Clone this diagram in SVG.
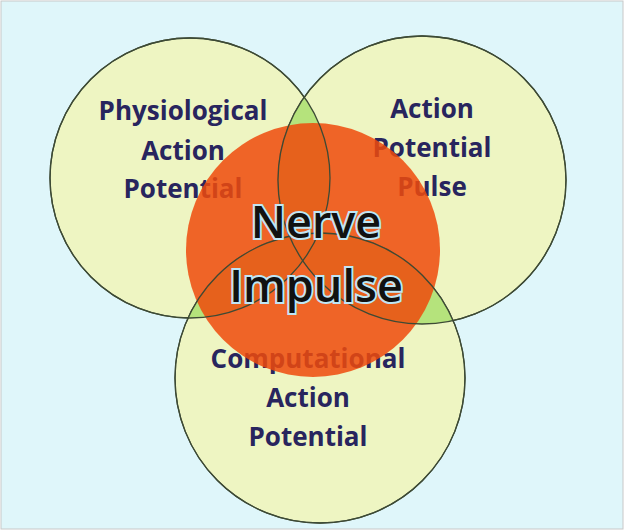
<svg xmlns="http://www.w3.org/2000/svg" width="624" height="530" viewBox="0 0 624 530">
<defs>
<style>
.c{fill:#eef5c2;stroke:#3d4a35;stroke-width:1.3}
.o{fill:none;stroke:#3d4a35;stroke-width:1.3}
.t{font-family:"Open Sans","DejaVu Sans",sans-serif;font-weight:bold;font-size:26px;fill:#28255e;text-anchor:middle}
.n{font-family:"Open Sans","DejaVu Sans",sans-serif;font-size:45px;fill:#111;stroke:#bfe6f5;stroke-width:4;paint-order:stroke;text-anchor:middle;font-weight:600}
</style>
<clipPath id="cA"><circle cx="190" cy="178" r="140"/></clipPath>
<clipPath id="cB"><circle cx="422" cy="180" r="144"/></clipPath>
</defs>
<rect x="1" y="1" width="622" height="528" fill="#dff6fa" stroke="#c8c8c8"/>
<g id="circles">
<circle id="A" class="c" cx="190" cy="178" r="140"/>
<circle id="B" class="c" cx="422" cy="180" r="144"/>
<circle id="C" class="c" cx="320" cy="378" r="145"/>
<g fill="#b5e37c">
<circle cx="422" cy="180" r="144" clip-path="url(#cA)"/>
<circle cx="320" cy="378" r="145" clip-path="url(#cA)"/>
<circle cx="320" cy="378" r="145" clip-path="url(#cB)"/>
</g>
</g>
<g id="labels">
<text class="t" x="183" y="120">Physiological</text>
<text class="t" x="183" y="160">Action</text>
<text class="t" x="183" y="198">Potential</text>
<text class="t" x="432" y="118">Action</text>
<text class="t" x="432" y="157">Potential</text>
<text class="t" x="432" y="196">Pulse</text>
<text class="t" x="308" y="368">Computational</text>
<text class="t" x="308" y="407">Action</text>
<text class="t" x="308" y="446">Potential</text>
</g>
<g id="impulse">
<circle cx="313" cy="250" r="127" fill="#ee4a0c" fill-opacity="0.85"/>
</g>
<g id="outlines">
<circle class="o" cx="190" cy="178" r="140"/>
<circle class="o" cx="422" cy="180" r="144"/>
<circle class="o" cx="320" cy="378" r="145"/>
</g>
<g id="center">
<text class="n" x="316" y="238">Nerve</text>
<text class="n" x="316" y="302">Impulse</text>
</g>
</svg>
